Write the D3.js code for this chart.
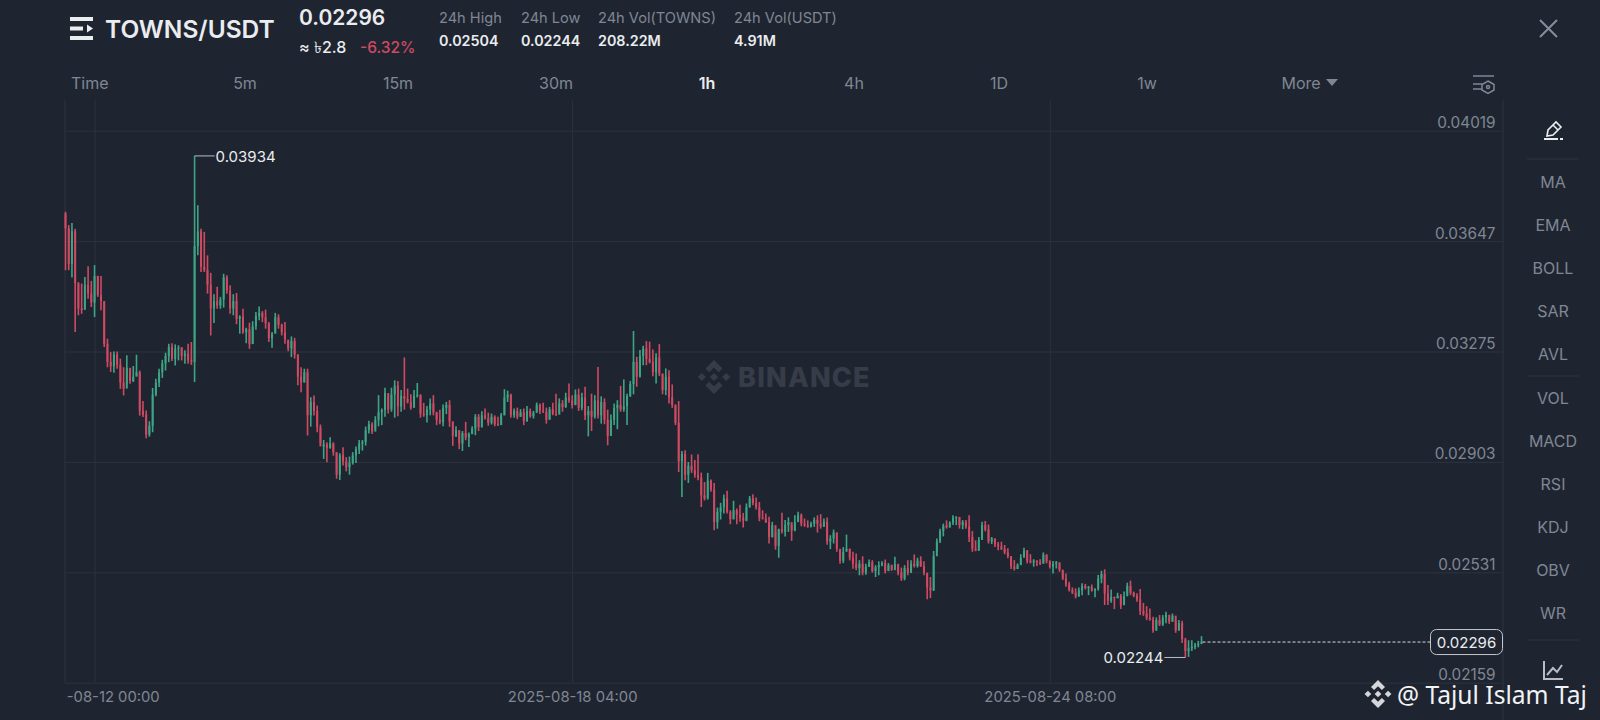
<!DOCTYPE html>
<html>
<head>
<meta charset="utf-8">
<script src="https://cdn.jsdelivr.net/npm/d3@7"></script>
<style>
  html, body { margin: 0; background: #1f2530; }
  svg { display: block; }
  text { font-family: Inter, "Noto Sans", sans-serif; }
</style>
</head>
<body>
<div id="chart"></div>
<script>
// prices below are in units of 0.00001 USDT, one entry per hourly candle
const firstOpen = 3740;
const highs = [
  3746,3701,3708,3689,3509,3504,3526,3562,3513,3566,
  3529,3529,3442,3318,3273,3275,3275,3251,3222,3262,
  3209,3226,3264,3211,3108,3076,3040,3152,3183,3217,
  3247,3271,3301,3303,3299,3296,3290,3279,3301,3307,
  3934,3768,3689,3678,3599,3540,3468,3493,3459,3537,
  3532,3498,3468,3472,3397,3419,3355,3372,3377,3408,
  3427,3411,3416,3374,3341,3405,3400,3369,3374,3313,
  3326,3321,3265,3222,3217,3217,3121,3127,3093,3029,
  2977,2969,2986,2969,2936,2932,2952,2919,2921,2936,
  2955,2977,2977,3022,3042,3037,3057,3128,3083,3153,
  3122,3153,3178,3176,3145,3255,3150,3131,3145,3169,
  3131,3102,3091,3117,3128,3072,3079,3096,3105,3111,
  3036,3023,3010,3007,3038,3002,3023,3064,3064,3074,
  3083,3069,3066,3060,3055,3068,3148,3143,3133,3083,
  3086,3081,3083,3091,3083,3075,3103,3100,3102,3086,
  3088,3102,3133,3117,3111,3136,3167,3128,3147,3150,
  3136,3156,3091,3133,3128,3223,3124,3117,3079,3063,
  3100,3111,3159,3181,3133,3176,3344,3257,3280,3294,
  3310,3308,3282,3269,3300,3201,3218,3212,3164,3097,
  3108,2940,2942,2903,2928,2909,2929,2867,2835,2866,
  2844,2832,2749,2765,2793,2806,2740,2772,2746,2759,
  2731,2763,2788,2794,2783,2768,2740,2729,2718,2701,
  2667,2678,2732,2707,2716,2690,2723,2735,2729,2712,
  2706,2701,2716,2723,2727,2712,2716,2656,2675,2665,
  2605,2616,2658,2611,2600,2594,2572,2585,2560,2574,
  2572,2555,2568,2568,2574,2562,2557,2583,2560,2547,
  2555,2572,2572,2591,2580,2585,2568,2527,2515,2603,
  2645,2678,2695,2706,2703,2723,2720,2718,2707,2707,
  2723,2670,2639,2650,2701,2704,2692,2650,2645,2633,
  2634,2623,2612,2586,2572,2561,2592,2614,2606,2592,
  2575,2572,2575,2598,2592,2572,2569,2569,2559,2536,
  2527,2499,2480,2477,2480,2494,2492,2485,2490,2477,
  2522,2536,2541,2488,2473,2449,2462,2458,2466,2496,
  2503,2466,2460,2475,2428,2417,2409,2381,2379,2387,
  2387,2398,2381,2392,2368,2370,2368,2310,2302,2302,
  2293,2300,2316
];
const lows = [
  3549,3549,3524,3341,3397,3402,3419,3453,3425,3391,
  3459,3414,3290,3222,3206,3203,3217,3149,3127,3166,
  3166,3172,3194,3059,3054,2983,2988,3003,3124,3155,
  3186,3211,3239,3243,3228,3245,3245,3234,3234,3230,
  3172,3599,3543,3543,3470,3329,3371,3419,3419,3423,
  3470,3402,3397,3367,3335,3335,3303,3284,3301,3348,
  3380,3374,3352,3307,3288,3338,3352,3329,3301,3276,
  3256,3251,3161,3138,3172,2992,3022,3059,3003,2966,
  2913,2902,2947,2924,2846,2842,2891,2871,2860,2894,
  2899,2930,2941,2958,2999,2997,3015,3023,3027,3055,
  3066,3072,3052,3057,3072,3079,3100,3079,3102,3120,
  3052,3055,3036,3060,3060,3027,3030,3023,3064,3021,
  2957,2987,2946,2940,2976,2953,2996,2993,3007,3019,
  3046,3025,3029,3023,3024,3027,3060,3105,3052,3052,
  3047,3055,3027,3038,3052,3049,3072,3064,3068,3032,
  3046,3060,3058,3066,3072,3085,3102,3083,3094,3075,
  3077,3044,2989,3007,3049,3049,3032,3030,2959,2993,
  3027,3013,3072,3072,3027,3122,3131,3156,3187,3229,
  3229,3235,3192,3167,3192,3131,3128,3100,3085,3027,
  2869,2785,2841,2832,2866,2850,2841,2751,2773,2776,
  2802,2673,2678,2709,2729,2729,2693,2709,2693,2701,
  2682,2703,2749,2757,2743,2703,2709,2697,2628,2648,
  2607,2580,2662,2652,2667,2637,2669,2701,2686,2684,
  2681,2682,2684,2665,2678,2684,2624,2609,2628,2600,
  2560,2562,2605,2571,2543,2538,2521,2521,2523,2549,
  2530,2515,2521,2551,2527,2536,2536,2538,2521,2502,
  2504,2521,2529,2547,2547,2549,2521,2440,2444,2468,
  2600,2630,2652,2678,2682,2690,2690,2678,2676,2678,
  2633,2600,2602,2603,2645,2669,2628,2626,2616,2605,
  2606,2592,2578,2542,2537,2542,2556,2586,2561,2561,
  2550,2552,2556,2561,2561,2544,2527,2544,2533,2505,
  2482,2466,2458,2443,2449,2454,2473,2454,2466,2447,
  2469,2494,2421,2421,2428,2407,2443,2407,2426,2454,
  2454,2447,2432,2387,2384,2370,2368,2327,2334,2350,
  2350,2359,2357,2364,2327,2334,2293,2244,2246,2266,
  2272,2278,2289
];
const closes = [
  3690,3570,3680,3505,3420,3415,3500,3470,3440,3530,
  3465,3445,3300,3240,3225,3265,3230,3170,3150,3220,
  3175,3190,3205,3075,3062,2995,3025,3130,3170,3205,
  3235,3260,3290,3250,3285,3288,3260,3268,3245,3240,
  3630,3680,3560,3550,3500,3420,3445,3430,3450,3525,
  3480,3420,3445,3385,3392,3340,3350,3300,3360,3395,
  3405,3390,3370,3320,3335,3390,3365,3340,3315,3285,
  3310,3265,3190,3170,3205,3060,3105,3075,3020,2955,
  2962,2950,2965,2935,2860,2925,2905,2885,2900,2925,
  2945,2965,2970,3010,3030,3005,3045,3070,3078,3135,
  3080,3130,3160,3090,3125,3115,3105,3085,3125,3128,
  3065,3060,3080,3100,3070,3045,3037,3085,3095,3040,
  2990,3010,2965,3000,2985,2997,3015,3055,3020,3060,
  3050,3035,3055,3030,3027,3060,3120,3130,3060,3075,
  3055,3070,3040,3075,3057,3068,3095,3075,3072,3045,
  3080,3065,3062,3100,3088,3120,3110,3095,3130,3085,
  3120,3060,3075,3055,3110,3060,3105,3045,2990,3045,
  3085,3095,3080,3090,3125,3165,3240,3190,3260,3285,
  3250,3240,3205,3255,3200,3145,3190,3120,3095,3035,
  2905,2930,2860,2890,2875,2860,2850,2790,2780,2840,
  2810,2700,2735,2750,2780,2735,2710,2740,2725,2715,
  2705,2750,2780,2765,2750,2715,2712,2700,2650,2690,
  2620,2676,2668,2690,2700,2672,2700,2725,2695,2690,
  2685,2695,2708,2695,2685,2702,2635,2645,2665,2610,
  2570,2600,2610,2580,2560,2545,2560,2530,2550,2565,
  2535,2548,2555,2562,2535,2555,2540,2558,2530,2510,
  2545,2530,2560,2552,2570,2552,2530,2480,2470,2585,
  2635,2670,2688,2682,2698,2715,2717,2690,2700,2685,
  2650,2610,2605,2640,2690,2675,2635,2645,2625,2618,
  2610,2598,2585,2550,2542,2555,2580,2605,2570,2565,
  2570,2565,2560,2590,2568,2550,2560,2565,2540,2510,
  2490,2472,2462,2450,2470,2485,2478,2482,2470,2475,
  2510,2525,2460,2435,2448,2444,2452,2420,2450,2485,
  2462,2452,2440,2400,2392,2378,2372,2335,2370,2355,
  2378,2388,2365,2385,2335,2360,2305,2265,2275,2280,
  2285,2290,2296
];
const yTicks = [0.04019, 0.03647, 0.03275, 0.02903, 0.02531, 0.02159];
const xTicks = ["2025-08-12 00:00", "2025-08-18 04:00", "2025-08-24 08:00"];
const startTime = "2025-08-11 15:00";
const statLabels = ["24h High", "24h Low", "24h Vol(TOWNS)", "24h Vol(USDT)"];
const statValues = ["0.02504", "0.02244", "208.22M", "4.91M"];
const tabs = ["Time", "5m", "15m", "30m", "1h", "4h", "1D", "1w", "More"];
const sideTop = ["MA", "EMA", "BOLL", "SAR", "AVL"];
const sideBottom = ["VOL", "MACD", "RSI", "KDJ", "OBV", "WR"];
const lastPrice = 0.02296, highMark = 0.03934, lowMark = 0.02244;

const width = 1600, height = 720;
const margin = { top: 100, right: 97, bottom: 37, left: 65 };
const bg = "#1f2530", grid = "#2c333e", dim = "#7f8794", up = "#3da585", down = "#cf4a62";

const parse = d3.utcParse("%Y-%m-%d %H:%M");
const candles = closes.map((c, i) => ({
  t: new Date(+parse(startTime) + i * 3600e3),
  open: (i ? closes[i - 1] : firstOpen) * 1e-5,
  high: highs[i] * 1e-5,
  low: lows[i] * 1e-5,
  close: c * 1e-5
}));

const svg = d3.select("#chart").append("svg")
  .attr("width", width).attr("height", height)
  .style("background", bg);

const x = d3.scaleUtc()
  .domain(d3.extent(candles, d => d.t))
  .range([65.5, 1201.5]);
const y = d3.scaleLinear()
  .domain([0.02159, 0.04019])
  .range([682.7, 130.7]);

// frame
svg.append("line").attr("x1", margin.left).attr("x2", margin.left)
  .attr("y1", margin.top).attr("y2", 682.7).attr("stroke", grid);
svg.append("line").attr("x1", width - margin.right).attr("x2", width - margin.right)
  .attr("y1", margin.top).attr("y2", height).attr("stroke", grid);

svg.append("clipPath").attr("id", "plot-clip").append("rect")
  .attr("x", margin.left + 1.5).attr("y", 0).attr("width", 1440).attr("height", height);

// time axis, the first label is cut by the left edge
const xAxis = svg.append("g")
  .attr("clip-path", "url(#plot-clip)")
  .append("g")
  .attr("class", "x-axis")
  .attr("transform", "translate(0,682.7)")
  .call(d3.axisBottom(x)
    .tickValues(xTicks.map(parse))
    .tickFormat(d3.utcFormat("%Y-%m-%d %H:%M"))
    .tickSize(-582.7));
xAxis.select(".domain").remove();
xAxis.selectAll("line").attr("stroke", grid);
xAxis.selectAll("text").attr("fill", dim).attr("y", 19.5).attr("dy", 0)
  .style("font-size", "14.8px");

// price axis
const yAxis = svg.append("g")
  .attr("class", "y-axis")
  .attr("transform", `translate(${width - margin.right},0)`)
  .call(d3.axisLeft(y)
    .tickValues(yTicks)
    .tickFormat(d3.format(".5f"))
    .tickSize(width - margin.right - margin.left));
yAxis.select(".domain").remove();
yAxis.selectAll("line").attr("stroke", grid);
yAxis.selectAll("text").attr("fill", dim).attr("x", -7.5).attr("dy", -3)
  .attr("text-anchor", "end").style("font-size", "15.3px");

// watermark
function diamond(g, cx, cy, r, fill) {
  g.append("path")
    .attr("d", `M${cx - r},${cy}L${cx},${cy - r}L${cx + r},${cy}L${cx},${cy + r}Z`)
    .attr("fill", fill);
}
function binanceMark(g, cx, cy, s, fill) {
  diamond(g, cx, cy, 0.24 * s, fill);
  diamond(g, cx - 0.72 * s, cy, 0.24 * s, fill);
  diamond(g, cx + 0.72 * s, cy, 0.24 * s, fill);
  [-1, 1].forEach(d => {
    g.append("path")
      .attr("d", `M${cx - 0.5 * s},${cy + d * 0.5 * s}L${cx},${cy + d * s}L${cx + 0.5 * s},${cy + d * 0.5 * s}`
        + `L${cx + 0.28 * s},${cy + d * 0.28 * s}L${cx},${cy + d * 0.56 * s}L${cx - 0.28 * s},${cy + d * 0.28 * s}Z`)
      .attr("fill", fill);
  });
}
binanceMark(svg.append("g"), 714, 377, 17, "#363d49");
svg.append("text").attr("x", 738).attr("y", 387)
  .attr("fill", "#363d49").attr("font-weight", 800)
  .attr("letter-spacing", "1.2px").style("font-size", "27px").text("BINANCE");

// candles
const plot = svg.append("g").attr("class", "candles");
plot.selectAll("line")
  .data(candles)
  .join("line")
  .attr("x1", d => x(d.t)).attr("x2", d => x(d.t))
  .attr("y1", d => y(d.high)).attr("y2", d => y(d.low))
  .attr("stroke", d => d.close >= d.open ? up : down)
  .attr("stroke-width", 1.6);
plot.selectAll("rect")
  .data(candles)
  .join("rect")
  .attr("x", d => x(d.t) - 1).attr("width", 2)
  .attr("y", d => y(Math.max(d.open, d.close)))
  .attr("height", d => Math.max(1, Math.abs(y(d.open) - y(d.close))))
  .attr("fill", d => d.close >= d.open ? up : down);

// high / low callouts
const iHigh = d3.greatest(candles, d => d.high);
const iLow = d3.least(candles, d => d.low);
svg.append("path")
  .attr("d", `M${x(iHigh.t)},${y(highMark)}H${x(iHigh.t) + 20}`)
  .attr("stroke", "#b9bec6").attr("fill", "none");
svg.append("text").attr("x", x(iHigh.t) + 21).attr("y", y(highMark) + 6)
  .attr("fill", "#eaecef").style("font-size", "15px").text(highMark.toFixed(5));
svg.append("path")
  .attr("d", `M${x(iLow.t)},${y(lowMark)}H${x(iLow.t) - 21}`)
  .attr("stroke", "#b9bec6").attr("fill", "none");
svg.append("text").attr("x", x(iLow.t) - 22).attr("y", y(lowMark) + 6)
  .attr("text-anchor", "end").attr("fill", "#eaecef")
  .style("font-size", "15px").text(lowMark.toFixed(5));

// last price
const lastX = x(candles[candles.length - 1].t);
svg.append("line").attr("x1", lastX + 1).attr("x2", 1430)
  .attr("y1", y(lastPrice)).attr("y2", y(lastPrice))
  .attr("stroke", "#d8dbe0").attr("stroke-dasharray", "3,2");
svg.append("rect").attr("x", 1430.5).attr("y", y(lastPrice) - 12.5)
  .attr("width", 72).attr("height", 25).attr("rx", 6)
  .attr("fill", bg).attr("stroke", "#c3c7cd");
svg.append("text").attr("x", 1466.5).attr("y", y(lastPrice) + 5.5)
  .attr("text-anchor", "middle").attr("fill", "#eaecef")
  .style("font-size", "15px").text(lastPrice.toFixed(5));

// header
const logo = svg.append("g").attr("fill", "#eaecef");
logo.append("rect").attr("x", 70).attr("y", 17).attr("width", 23).attr("height", 4);
logo.append("rect").attr("x", 70).attr("y", 26.5).attr("width", 13).attr("height", 4);
logo.append("path").attr("d", "M87,24.5L93,28.5L87,32.5Z");
logo.append("rect").attr("x", 70).attr("y", 36).attr("width", 23).attr("height", 4);

function label(txt, px, py, size, fill, weight, anchor) {
  return svg.append("text").attr("x", px).attr("y", py)
    .attr("fill", fill).attr("font-weight", weight || 400)
    .attr("text-anchor", anchor || "start")
    .style("font-size", size + "px").text(txt);
}
label("TOWNS/USDT", 105, 38, 24.5, "#eaecef", 600);
label("0.02296", 299, 25, 21, "#eaecef", 600);
label("≈ ৳2.8", 299, 53, 16, "#eaecef", 500);
label("-6.32%", 360, 53, 15.5, down, 500);

const statX = [439, 521, 598, 734];
statLabels.forEach((s, i) => label(s, statX[i], 23, 14.6, dim, 400));
statValues.forEach((s, i) => label(s, statX[i], 46, 14.3, "#eaecef", 600));

const tabX = [71, 245, 398, 556, 707, 854, 999, 1147, 1301];
tabs.forEach((t, i) => {
  const on = t === "1h";
  label(t, tabX[i], 89, 16, on ? "#eaecef" : dim, on ? 600 : 400, i ? "middle" : "start");
});
svg.append("path").attr("d", "M1326,79H1338L1332,86Z").attr("fill", dim);

// settings icon
const gear = svg.append("g").attr("stroke", dim).attr("stroke-width", 1.5).attr("fill", "none");
gear.append("path").attr("d", "M1473,76H1494M1473,84H1482M1473,89H1482");
gear.append("path").attr("d", "M1488,81L1494,84.5V90L1488,93.5L1482,90V84.5Z");
gear.append("circle").attr("cx", 1488).attr("cy", 87).attr("r", 1.5);

// close button
svg.append("path").attr("d", "M1540,20L1557,37M1557,20L1540,37")
  .attr("stroke", "#848e9c").attr("stroke-width", 2);

// right tool column
const sideY = { MA: 182, EMA: 225, BOLL: 268, SAR: 311, AVL: 354, VOL: 398, MACD: 441, RSI: 484, KDJ: 527, OBV: 570, WR: 613 };
sideTop.concat(sideBottom).forEach(s => label(s, 1553, sideY[s] + 6, 16, dim, 400, "middle"));
[159, 376, 640].forEach(py => {
  svg.append("line").attr("x1", 1527).attr("x2", 1579).attr("y1", py).attr("y2", py).attr("stroke", grid);
});
svg.append("path")
  .attr("d", "M1547,136L1548,130L1556,122L1561,127L1553,135ZM1553,125L1558,130")
  .attr("fill", "none").attr("stroke", "#eaecef").attr("stroke-width", 1.6);
svg.append("path").attr("d", "M1544,139H1558M1560,139H1563")
  .attr("stroke", "#eaecef").attr("stroke-width", 2);
svg.append("path")
  .attr("d", "M1544,661V679H1563M1547,675L1553,668L1557,672L1562,665")
  .attr("fill", "none").attr("stroke", "#b8bdc5").attr("stroke-width", 2);

// share watermark
binanceMark(svg.append("g"), 1378, 694, 14, "#d5d7db");
svg.append("text").attr("x", 1397).attr("y", 704)
  .attr("fill", "#f2f3f5")
  .style("font-family", '"Noto Sans"').style("font-size", "24.6px").text("@ Tajul Islam Taj");
</script>
</body>
</html>
